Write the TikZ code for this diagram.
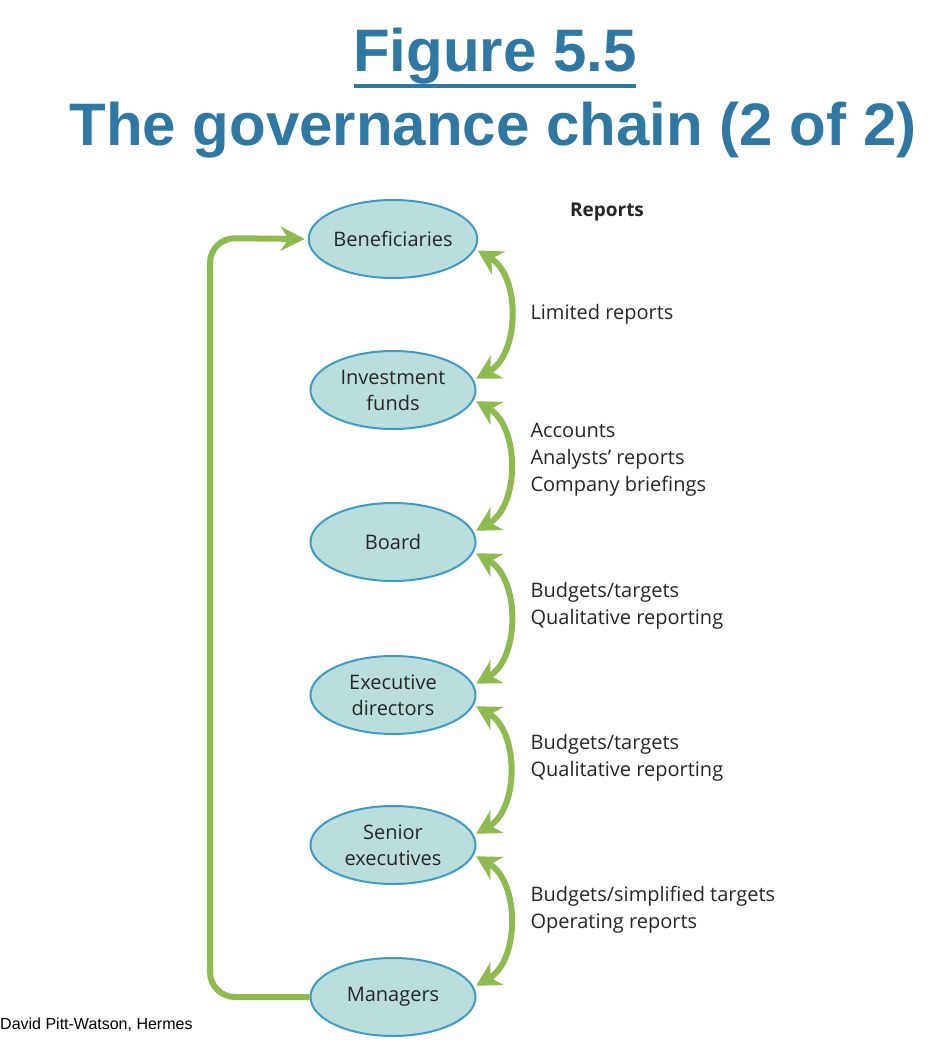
\documentclass[tikz,border=0pt]{standalone}
\usepackage{fontspec}
\setmainfont{Open Sans}
\newfontfamily\titlefont{Liberation Sans}
\usetikzlibrary{shapes.geometric,arrows.meta}
\definecolor{tblue}{HTML}{2F78A4}
\definecolor{gr}{HTML}{8DBB50}
\definecolor{efill}{HTML}{B9DEDC}
\definecolor{edge}{HTML}{3D9BC6}
\begin{document}
\begin{tikzpicture}[x=1pt,y=-1pt,
 el/.style={ellipse,draw=edge,line width=2pt,fill=efill,inner sep=0pt,minimum width=165pt,minimum height=78pt,align=center,font=\fontsize{20}{26}\selectfont,text=black!85},
 lb/.style={anchor=west,align=left,font=\fontsize{20}{27}\selectfont,text=black!85},
 ar/.style={draw=gr,line width=6pt,{Stealth[length=24pt,width=26pt]}-{Stealth[length=24pt,width=26pt]}}]
\useasboundingbox (0,0) rectangle (951,1057);
\node[font=\titlefont\bfseries\fontsize{60}{70}\selectfont,text=tblue] (t1) at (495,56) {Figure 5.5};
\draw[tblue,line width=3.5pt] (354,86) -- (636,86);
\node[font=\titlefont\bfseries\fontsize{60}{70}\selectfont,text=tblue] (t2) at (493,130) {The governance chain (2 of 2)};
\node[el] (b) at (393,239) {Beneficiaries};
\node[el] (i) at (393,390) {Investment\\funds};
\node[el] (bo) at (393,542) {Board};
\node[el] (e) at (393,695) {Executive\\directors};
\node[el] (s) at (393,845) {Senior\\executives};
\node[el] (m) at (393,997) {Managers};
\node[font=\bfseries\fontsize{19}{24}\selectfont,text=black!85] (r) at (607,212) {Reports};
\draw[ar] ([xshift=3pt]b.-8) to[bend left=60] ([xshift=3pt]i.8);
\draw[ar] ([xshift=3pt]i.-8) to[bend left=60] ([xshift=3pt]bo.8);
\draw[ar] ([xshift=3pt]bo.-8) to[bend left=60] ([xshift=3pt]e.8);
\draw[ar] ([xshift=3pt]e.-8) to[bend left=60] ([xshift=3pt]s.8);
\draw[ar] ([xshift=3pt]s.-8) to[bend left=60] ([xshift=3pt]m.8);
\coordinate (c1) at (210,997);
\coordinate (c2) at (210,238);
\draw[draw=gr,line width=6pt,rounded corners=25pt,-{Stealth[length=24pt,width=24pt]}] (m.west) -- (c1) -- (c2) -- ([xshift=-3pt]b.west);
\node[lb] (l1) at (527,314) {Limited reports};
\node[lb] (l2) at (527,460) {Accounts\\Analysts’ reports\\Company briefings};
\node[lb] (l3) at (527,606) {Budgets/targets\\Qualitative reporting};
\node[lb] (l4) at (527,758) {Budgets/targets\\Qualitative reporting};
\node[lb] (l5) at (527,910) {Budgets/simplified targets\\Operating reports};
\node[anchor=west,font=\titlefont\fontsize{16}{19}\selectfont,inner sep=0pt] (f) at (0,1025) {David Pitt-Watson, Hermes};
\end{tikzpicture}
\end{document}
